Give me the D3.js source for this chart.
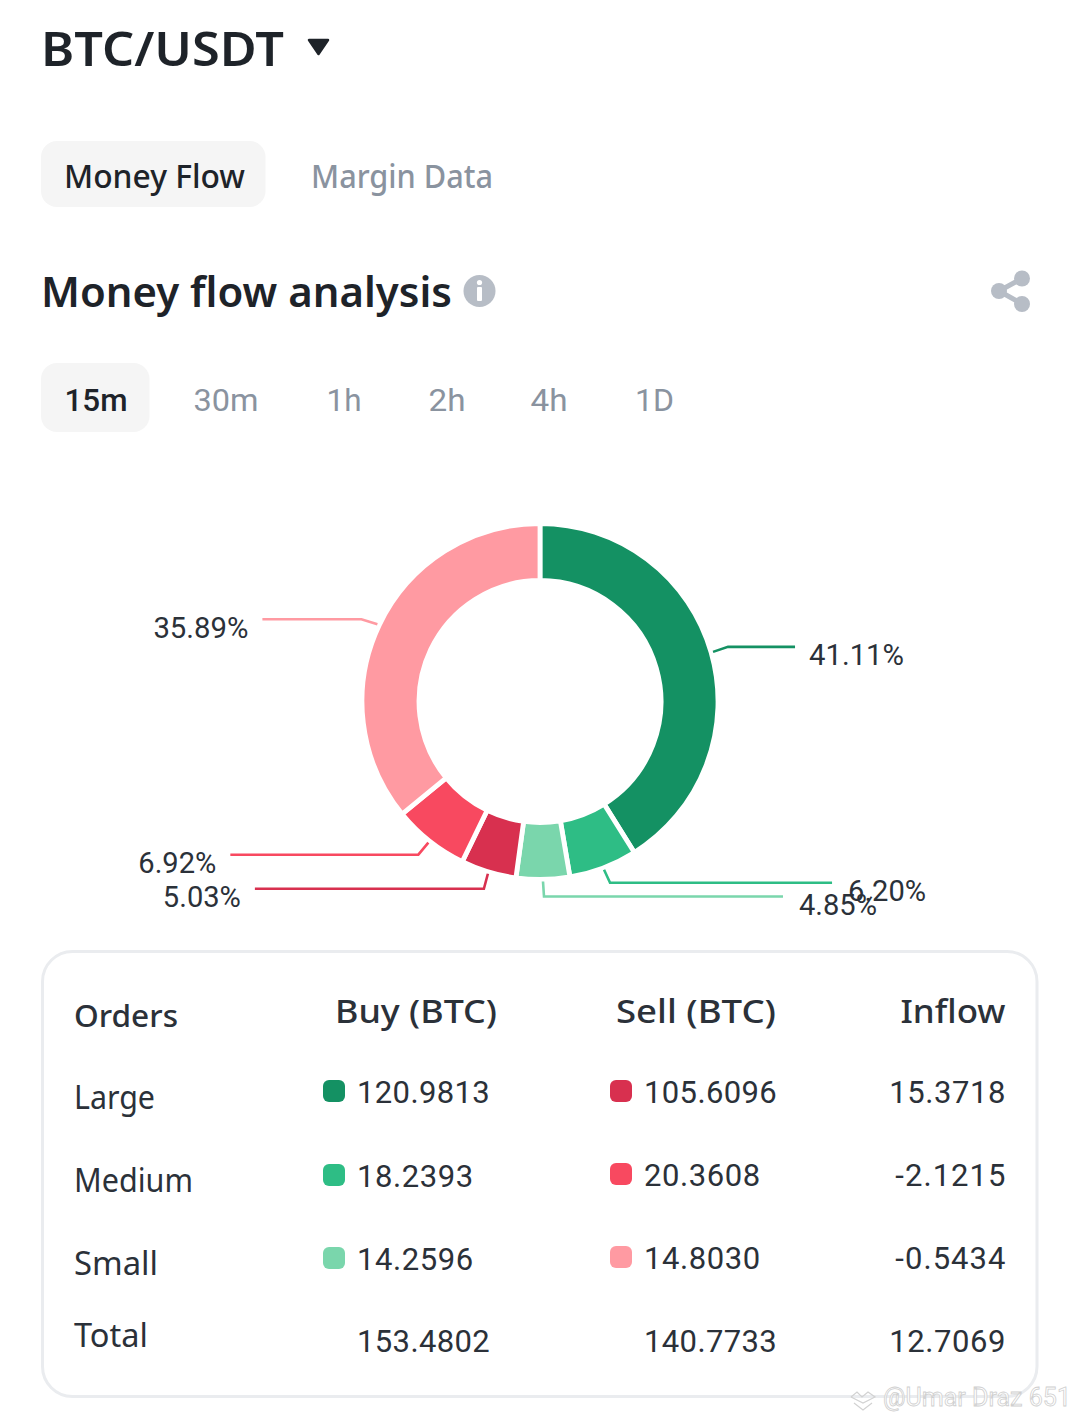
<!DOCTYPE html>
<html><head><meta charset="utf-8">
<script src="https://cdn.jsdelivr.net/npm/d3@7/dist/d3.min.js"></script>
<style>html,body{margin:0;padding:0;background:#fff}svg{display:block}</style>
</head><body><svg id="c" width="1080" height="1420"></svg>
<script>
// ---- data ----
const sliceNames = ["Large buy","Medium buy","Small buy","Large sell","Medium sell","Small sell"];
const sliceValues = [41.11,6.20,4.85,5.03,6.92,35.89];
const sliceColors = ["#149163","#2ebd85","#7ad6ac","#d8304f","#f84960","#ff9aa2"];
const tabs1 = ["Money Flow","Margin Data"];
const tabs2 = ["15m","30m","1h","2h","4h","1D"];
const columns = ["Orders","Buy (BTC)","Sell (BTC)","Inflow"];
const rowNames = ["Large","Medium","Small","Total"];
const buyValues = ["120.9813","18.2393","14.2596","153.4802"];
const sellValues = ["105.6096","20.3608","14.8030","140.7733"];
const inflowValues = ["15.3718","-2.1215","-0.5434","12.7069"];
const buyColors = ["#149163","#2ebd85","#7ad6ac",null];
const sellColors = ["#d8304f","#f84960","#ff9aa2",null];

// ---- layout ----
const svg = d3.select("#c");
const DARK="#1e2329", GREY="#8a939f", TEXT="#2b3139";
const SANS="'Noto Sans',sans-serif", NUM="Roboto,sans-serif";
function T(x,y,s,o){
  const t=svg.append("text").attr("x",x).attr("y",y).text(s)
    .attr("font-family",o.font||SANS).attr("font-size",o.size).attr("font-weight",o.weight||400)
    .attr("fill",o.color||TEXT).attr("text-anchor",o.anchor||"start");
  if(o.width){t.attr("textLength",o.width).attr("lengthAdjust",o.adjust||"spacingAndGlyphs");}
  return t;
}
T(41,66,"BTC/USDT",{size:47,weight:600,color:DARK,width:243});
svg.append("path").attr("d",d3.line()([[309,40],[328,40],[318.5,54]])+"Z").attr("fill",DARK).attr("stroke",DARK).attr("stroke-width",2.5).attr("stroke-linejoin","round");

svg.append("rect").attr("x",41).attr("y",141).attr("width",224.5).attr("height",66).attr("rx",16).attr("fill","#f5f5f5");
T(64,188,tabs1[0],{size:32,weight:500,color:DARK,width:181});
T(311,188,tabs1[1],{size:32,weight:500,color:GREY,width:182});

T(41,307,"Money flow analysis",{size:42,weight:600,color:DARK,width:411});
svg.append("circle").attr("cx",479.5).attr("cy",291).attr("r",16).attr("fill","#b7bdc6");
svg.append("circle").attr("cx",479.5).attr("cy",282.5).attr("r",2.6).attr("fill","#fff");
svg.append("rect").attr("x",477).attr("y",287).attr("width",5).attr("height",14).attr("rx",1).attr("fill","#fff");

const sh=[[1022,278.5],[999,291],[1022,304]];
svg.append("path").attr("d",d3.line()([sh[0],sh[1],sh[2]])).attr("fill","none").attr("stroke","#b7bdc6").attr("stroke-width",5);
svg.selectAll("circle.sh").data(sh).join("circle").attr("class","sh").attr("cx",d=>d[0]).attr("cy",d=>d[1]).attr("r",8).attr("fill","#b7bdc6");

svg.append("rect").attr("x",41).attr("y",363).attr("width",108.5).attr("height",69).attr("rx",16).attr("fill","#f5f5f5");
const tabX=[[64.5,63],[193.5,65],[326.5,35],[428.5,37],[530.5,37],[635,39]];
tabs2.forEach((t,i)=>T(tabX[i][0],411,t,{font:NUM,size:32,weight:i?400:500,color:i?GREY:DARK,width:tabX[i][1]}));

// ---- donut ----
const cx=540, cy=701.5, R0=121, R1=178;
const pie=d3.pie().sort(null).value(d=>d)(sliceValues);
const arc=d3.arc().innerRadius(R0).outerRadius(R1);
const g=svg.append("g").attr("transform",`translate(${cx},${cy})`);
g.selectAll("path").data(pie).join("path").attr("d",arc)
  .attr("fill",(d,i)=>sliceColors[i]).attr("stroke","#fff").attr("stroke-width",4.8);

// leader geometry: [elbow dx, elbow dy, run length, side, label gap]
const leaderShape=[[15,-5,67,1,14],[6,13,222,1,16],[1,15,239,1,16],[-4,15,229,-1,14],[-10,12,188,-1,14],[-16,-5,99,-1,14]];
pie.forEach((d,i)=>{
  const a=(d.startAngle+d.endAngle)/2, r=180;
  const sx=cx+r*Math.sin(a), sy=cy-r*Math.cos(a);
  const [dx,dy,len,side,gap]=leaderShape[i];
  const ex=sx+dx, ey=sy+dy, tx=ex+side*len;
  svg.append("path").attr("d",d3.line()([[sx,sy],[ex,ey],[tx,ey]])).attr("fill","none")
    .attr("stroke",sliceColors[i]).attr("stroke-width",2.6);
  T(tx+side*gap,ey+18.5,d.value.toFixed(2)+"%",{font:NUM,size:29,color:TEXT,anchor:side>0?"start":"end",width:i==0||i==5?95:78});
});

// ---- table ----
svg.append("rect").attr("x",42.5).attr("y",951.5).attr("width",994.5).attr("height",445).attr("rx",30)
  .attr("fill","#fff").attr("stroke","#eaecef").attr("stroke-width",3);
T(74,1027,columns[0],{size:31,weight:500,color:TEXT,width:104});
T(335,1022.5,columns[1],{size:33,weight:500,color:TEXT,width:162});
T(616,1022.5,columns[2],{size:33,weight:500,color:TEXT,width:160});
T(1005.5,1022.5,columns[3],{size:33,weight:500,color:TEXT,anchor:"end",width:105});

const nameY=[1109,1192,1275,1347], valY=[1103,1187,1270,1352], sellLift=[0,1,1,0];
const wFor=s=>s.length*16.6-(s[0]=="-"?6:0);
rowNames.forEach((n,i)=>{
  T(74,nameY[i],n,{size:32,color:TEXT,width:[81,119,84,74][i]});
  if(buyColors[i]) svg.append("rect").attr("x",323).attr("y",valY[i]-23).attr("width",22).attr("height",22).attr("rx",6).attr("fill",buyColors[i]);
  if(sellColors[i]) svg.append("rect").attr("x",610).attr("y",valY[i]-23-sellLift[i]).attr("width",22).attr("height",22).attr("rx",6).attr("fill",sellColors[i]);
  T(357,valY[i],buyValues[i],{font:NUM,size:31,color:TEXT,width:wFor(buyValues[i]),adjust:"spacing"});
  T(644,valY[i]-sellLift[i],sellValues[i],{font:NUM,size:31,color:TEXT,width:wFor(sellValues[i]),adjust:"spacing"});
  T(1005.5,valY[i]-sellLift[i],inflowValues[i],{font:NUM,size:31,color:TEXT,anchor:"end",width:wFor(inflowValues[i]),adjust:"spacing"});
});

// ---- watermark ----
const wm=svg.append("g").attr("fill","none").attr("stroke","#d2d2d2").attr("stroke-width",1.2);
wm.append("path").attr("d",d3.line()([[851,1397],[857,1392],[862,1397],[868,1392],[875,1397],[863,1403],[851,1397]]));
wm.append("path").attr("d",d3.line()([[854,1403],[863,1410],[872,1403]]));
svg.append("text").attr("x",883).attr("y",1406).text("@Umar Draz 651").attr("font-family","Roboto,sans-serif")
  .attr("font-size",25).attr("fill","#fff").attr("stroke","#cfcfcf").attr("stroke-width",0.8)
  .attr("textLength",188).attr("lengthAdjust","spacingAndGlyphs");
</script></body></html>
